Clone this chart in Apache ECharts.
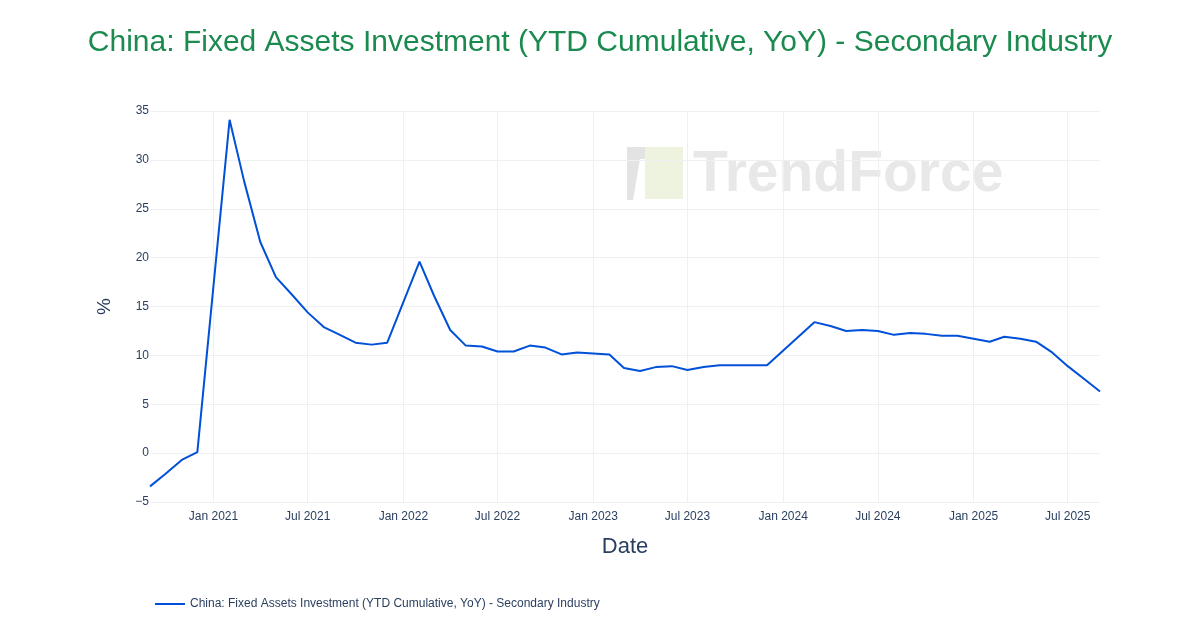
<!DOCTYPE html>
<html>
<head>
<meta charset="utf-8">
<title>China FAI Secondary Industry</title>
<script src="https://cdn.jsdelivr.net/npm/echarts@6/dist/echarts.min.js"></script>
<style>
  html, body { margin: 0; padding: 0; background: #fff; }
  #chart { width: 1200px; height: 630px; }
</style>
</head>
<body>
<div id="chart"></div>
<script>
// YTD cumulative YoY, % (months without a release are simply absent)
const months = [
  '2020-09', '2020-10', '2020-11', '2020-12',
  '2021-02', '2021-03', '2021-04', '2021-05', '2021-06', '2021-07', '2021-08', '2021-09', '2021-10', '2021-11', '2021-12',
  '2022-02', '2022-03', '2022-04', '2022-05', '2022-06', '2022-07', '2022-08', '2022-09', '2022-10', '2022-11', '2022-12',
  '2023-02', '2023-03', '2023-04', '2023-05', '2023-06', '2023-07', '2023-08', '2023-09', '2023-10', '2023-11', '2023-12',
  '2024-03', '2024-04', '2024-05', '2024-06', '2024-07', '2024-08', '2024-09', '2024-10', '2024-11', '2024-12',
  '2025-02', '2025-03', '2025-04', '2025-05', '2025-06', '2025-07', '2025-08', '2025-09'
];
const values = [
  -3.4, -2.1, -0.7, 0.1,
  34.1, 27.8, 21.6, 18.0, 16.2, 14.4, 12.9, 12.1, 11.3, 11.1, 11.3,
  19.6, 16.1, 12.6, 11.0, 10.9, 10.4, 10.4, 11.0, 10.8, 10.1, 10.3,
  10.1, 8.7, 8.4, 8.8, 8.9, 8.5, 8.8, 9.0, 9.0, 9.0, 9.0,
  13.4, 13.0, 12.5, 12.6, 12.5, 12.1, 12.3, 12.2, 12.0, 12.0,
  11.4, 11.9, 11.7, 11.4, 10.3, 8.9, 7.6, 6.3
];
const monthNames = ['Jan', 'Feb', 'Mar', 'Apr', 'May', 'Jun', 'Jul', 'Aug', 'Sep', 'Oct', 'Nov', 'Dec'];
const seriesName = 'China: Fixed Assets Investment (YTD Cumulative, YoY) - Secondary Industry';

const toDate = s => {
  const [y, m] = s.split('-').map(Number);
  return new Date(y, m - 1, 1).getTime();
};
const points = months.map((m, i) => [toDate(m), values[i]]);

const textColor = '#2a3f5f';
const gridColor = '#eef0f3';
const HALF_YEAR = 182 * 24 * 3600 * 1000;

const chart = echarts.init(document.getElementById('chart'));
chart.setOption({
  animation: false,
  textStyle: { fontFamily: 'Liberation Sans, Arial, sans-serif' },
  title: {
    text: 'China: Fixed Assets Investment (YTD Cumulative, YoY) - Secondary Industry',
    left: 'center',
    top: 23,
    textStyle: { color: '#1a8a4f', fontSize: 30, fontWeight: 'normal' }
  },
  graphic: [
    {
      type: 'polygon',
      z: 0,
      shape: { points: [[627, 147], [660, 147], [656, 159], [640, 159], [633, 200], [627, 200]] },
      style: { fill: '#e3e3e3' }
    },
    {
      type: 'rect',
      z: 0,
      shape: { x: 645, y: 147, width: 38, height: 52 },
      style: { fill: '#eef3df' }
    },
    {
      type: 'text',
      z: 0,
      left: 693,
      top: 147,
      style: {
        text: 'TrendForce',
        fontSize: 57,
        fontWeight: 'bold',
        fontFamily: 'Liberation Sans, Arial, sans-serif',
        fill: '#e8e8e8'
      }
    }
  ],
  legend: {
    left: 149,
    top: 593,
    itemWidth: 30,
    itemHeight: 2,
    itemGap: 10,
    textStyle: { color: textColor, fontSize: 12 },
    data: [seriesName]
  },
  grid: { left: 150, right: 100, top: 111, bottom: 128 },
  xAxis: {
    type: 'time',
    min: points[0][0],
    max: points[points.length - 1][0],
    minInterval: HALF_YEAR,
    maxInterval: HALF_YEAR,
    name: 'Date',
    nameLocation: 'middle',
    nameGap: 34,
    nameTextStyle: { color: textColor, fontSize: 22 },
    axisLine: { show: false },
    axisTick: { show: false },
    axisLabel: {
      color: textColor,
      fontSize: 12,
      margin: 9,
      hideOverlap: false,
      showMinLabel: false,
      showMaxLabel: false,
      formatter: v => {
        const d = new Date(v);
        return monthNames[d.getMonth()] + ' ' + d.getFullYear();
      }
    },
    splitLine: { show: true, showMinLine: false, showMaxLine: false, lineStyle: { color: gridColor, width: 1 } }
  },
  yAxis: {
    type: 'value',
    min: -5,
    max: 35,
    interval: 5,
    name: '%',
    nameLocation: 'middle',
    nameGap: 36,
    nameTextStyle: { color: textColor, fontSize: 19 },
    axisLine: { show: false },
    axisTick: { show: false },
    axisLabel: {
      color: textColor,
      fontSize: 12,
      margin: 1,
      formatter: v => (v < 0 ? '\u2212' + Math.abs(v) : String(v))
    },
    splitLine: { lineStyle: { color: gridColor, width: 1 } }
  },
  series: [
    {
      name: seriesName,
      type: 'line',
      data: points,
      symbol: 'none',
      lineStyle: { color: '#0050d8', width: 2 },
      itemStyle: { color: '#0050d8' },
      z: 3
    }
  ]
});
</script>
</body>
</html>
